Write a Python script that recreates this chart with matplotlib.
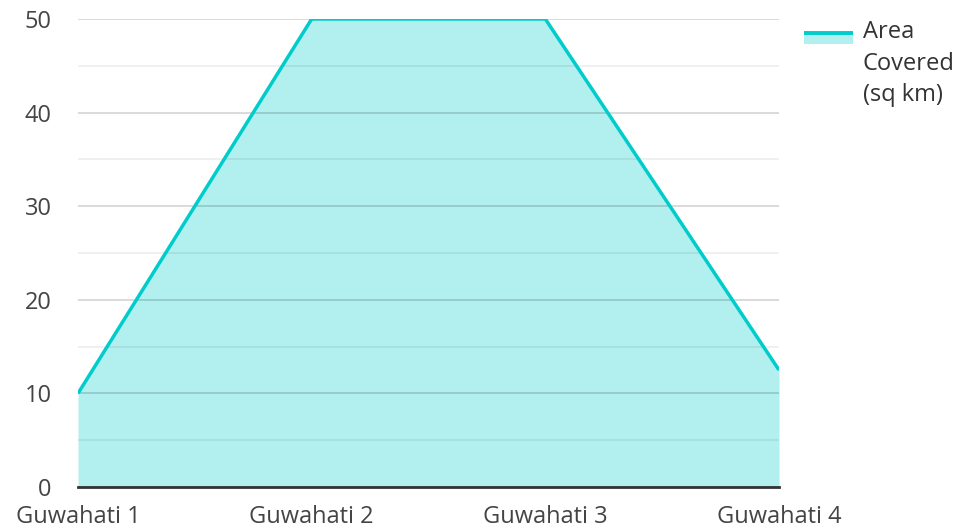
import matplotlib
matplotlib.use("Agg")
import matplotlib.pyplot as plt
from matplotlib.lines import Line2D
from matplotlib.patches import Rectangle

categories = ["Guwahati 1", "Guwahati 2", "Guwahati 3", "Guwahati 4"]
area_covered = [10, 50, 50, 12.5]
series_name = "Area\nCovered\n(sq km)"
y_ticks = [0, 10, 20, 30, 40, 50]
y_minor_ticks = [5, 15, 25, 35, 45]

plt.rcParams['font.family'] = ['Open Sans', 'DejaVu Sans']

LINE = "#00cccc"
FILL = "#b2efef"
FS = 17
W, H = 961, 528

fig = plt.figure(figsize=(W / 100, H / 100), dpi=100)
ax = fig.add_axes([78 / W, 1 - 487 / H, (779 - 78) / W, (487 - 19) / H])

x = list(range(len(categories)))
ax.fill_between(x, area_covered, 0, color=FILL, linewidth=0, zorder=1)
ax.plot(x, area_covered, color=LINE, linewidth=2.5, zorder=3, solid_capstyle='butt')

ax.set_xlim(0, len(categories) - 1)
ax.set_ylim(0, 50)
ax.set_yticks(y_ticks)
ax.set_yticks(y_minor_ticks, minor=True)
ax.set_xticks(x)
ax.set_xticklabels(categories)
ax.grid(True, which='major', axis='y', color='black', alpha=0.17, linewidth=1.2, zorder=2)
ax.grid(True, which='minor', axis='y', color='black', alpha=0.07, linewidth=1.2, zorder=2)
ax.set_axisbelow(False)
for s in ['left', 'right', 'top']:
    ax.spines[s].set_visible(False)
ax.spines['bottom'].set_color('#333333')
ax.spines['bottom'].set_linewidth(2)
ax.spines['bottom'].set_zorder(4)
ax.tick_params(axis='both', which='both', length=0, labelsize=FS, colors='#444444')
ax.tick_params(axis='x', pad=13)
ax.tick_params(axis='y', pad=19)

# legend (drawn in figure pixel coordinates)
fig.patches.append(Rectangle((804 / W, 1 - 44 / H), 49 / W, 11 / H, facecolor=FILL,
                             edgecolor='none', transform=fig.transFigure, figure=fig))
fig.lines.append(Line2D([804 / W, 853 / W], [1 - 33 / H, 1 - 33 / H], color=LINE,
                        linewidth=2.8, transform=fig.transFigure, figure=fig,
                        solid_capstyle='butt'))
fig.text(863 / W, 1 - 20 / H, series_name, fontsize=FS, color='#333333',
         va='top', ha='left', linespacing=1.43)

fig.savefig("out.png", dpi=100)
